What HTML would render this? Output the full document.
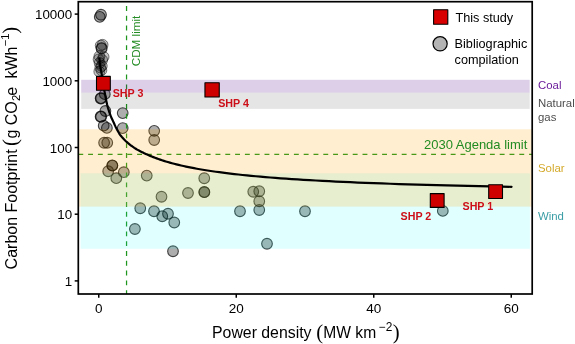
<!DOCTYPE html>
<html lang="en"><head><meta charset="utf-8"><title>Carbon footprint vs power density</title>
<style>html,body{margin:0;padding:0;background:#fff;}body{width:575px;height:344px;overflow:hidden;}svg{display:block;font-family:"Liberation Sans",Arial,sans-serif;}</style>
</head><body>
<svg width="575" height="344" viewBox="0 0 575 344">
<rect width="575" height="344" fill="#fff"/>
<defs><clipPath id="panel"><rect x="78.3" y="1.7" width="453.90000000000003" height="292.3"/></clipPath></defs>
<g clip-path="url(#panel)">
<circle cx="101" cy="14.75" r="5.35" fill="#000" fill-opacity="0.32" stroke="#000" stroke-opacity="0.7" stroke-width="1.1"/>
<circle cx="99.75" cy="16.9" r="5.35" fill="#000" fill-opacity="0.32" stroke="#000" stroke-opacity="0.7" stroke-width="1.1"/>
<circle cx="102.6" cy="44.8" r="5.4" fill="#000" fill-opacity="0.22" stroke="#000" stroke-opacity="0.5" stroke-width="1.0"/>
<circle cx="100.7" cy="45.5" r="5.4" fill="#000" fill-opacity="0.22" stroke="#000" stroke-opacity="0.5" stroke-width="1.0"/>
<circle cx="101.6" cy="48.3" r="5.4" fill="#000" fill-opacity="0.36" stroke="#000" stroke-opacity="0.8" stroke-width="1.2"/>
<circle cx="103.6" cy="56.9" r="5.4" fill="#000" fill-opacity="0.22" stroke="#000" stroke-opacity="0.5" stroke-width="1.0"/>
<circle cx="99.4" cy="56.3" r="5.4" fill="#000" fill-opacity="0.22" stroke="#000" stroke-opacity="0.5" stroke-width="1.0"/>
<circle cx="98.6" cy="59.4" r="5.4" fill="#000" fill-opacity="0.22" stroke="#000" stroke-opacity="0.5" stroke-width="1.0"/>
<circle cx="102.2" cy="60" r="5.4" fill="#000" fill-opacity="0.22" stroke="#000" stroke-opacity="0.5" stroke-width="1.0"/>
<circle cx="99.6" cy="63" r="5.4" fill="#000" fill-opacity="0.22" stroke="#000" stroke-opacity="0.5" stroke-width="1.0"/>
<circle cx="101.8" cy="66" r="5.4" fill="#000" fill-opacity="0.22" stroke="#000" stroke-opacity="0.5" stroke-width="1.0"/>
<circle cx="99.3" cy="71.6" r="5.4" fill="#000" fill-opacity="0.22" stroke="#000" stroke-opacity="0.5" stroke-width="1.0"/>
<circle cx="101.4" cy="70.3" r="5.4" fill="#000" fill-opacity="0.22" stroke="#000" stroke-opacity="0.5" stroke-width="1.0"/>
<circle cx="100.3" cy="67.5" r="5.4" fill="#000" fill-opacity="0.22" stroke="#000" stroke-opacity="0.5" stroke-width="1.0"/>
<circle cx="100.9" cy="98.3" r="5.4" fill="#000" fill-opacity="0.42" stroke="#000" stroke-opacity="0.85" stroke-width="1.5"/>
<circle cx="104.8" cy="94.2" r="5.35" fill="#000" fill-opacity="0.32" stroke="#000" stroke-opacity="0.7" stroke-width="1.1"/>
<circle cx="105.4" cy="111" r="5.35" fill="#000" fill-opacity="0.32" stroke="#000" stroke-opacity="0.7" stroke-width="1.1"/>
<circle cx="100.9" cy="116.7" r="5.4" fill="#000" fill-opacity="0.42" stroke="#000" stroke-opacity="0.85" stroke-width="1.5"/>
<circle cx="103.7" cy="125.7" r="5.35" fill="#000" fill-opacity="0.32" stroke="#000" stroke-opacity="0.7" stroke-width="1.1"/>
<circle cx="106.9" cy="127.9" r="5.35" fill="#000" fill-opacity="0.32" stroke="#000" stroke-opacity="0.7" stroke-width="1.1"/>
<circle cx="122.7" cy="113.1" r="5.35" fill="#000" fill-opacity="0.32" stroke="#000" stroke-opacity="0.7" stroke-width="1.1"/>
<circle cx="122.7" cy="128.1" r="5.35" fill="#000" fill-opacity="0.32" stroke="#000" stroke-opacity="0.7" stroke-width="1.1"/>
<circle cx="154.2" cy="130.8" r="5.35" fill="#000" fill-opacity="0.32" stroke="#000" stroke-opacity="0.7" stroke-width="1.1"/>
<circle cx="154.2" cy="140" r="5.35" fill="#000" fill-opacity="0.32" stroke="#000" stroke-opacity="0.7" stroke-width="1.1"/>
<circle cx="104.1" cy="142.75" r="5.35" fill="#000" fill-opacity="0.32" stroke="#000" stroke-opacity="0.7" stroke-width="1.1"/>
<circle cx="107.25" cy="142.75" r="5.35" fill="#000" fill-opacity="0.32" stroke="#000" stroke-opacity="0.7" stroke-width="1.1"/>
<circle cx="112.25" cy="165.4" r="5.35" fill="#000" fill-opacity="0.32" stroke="#000" stroke-opacity="0.7" stroke-width="1.1"/>
<circle cx="112.4" cy="165.6" r="5.35" fill="#000" fill-opacity="0.32" stroke="#000" stroke-opacity="0.7" stroke-width="1.1"/>
<circle cx="108.2" cy="171.25" r="5.35" fill="#000" fill-opacity="0.32" stroke="#000" stroke-opacity="0.7" stroke-width="1.1"/>
<circle cx="123.8" cy="172.2" r="5.35" fill="#000" fill-opacity="0.32" stroke="#000" stroke-opacity="0.7" stroke-width="1.1"/>
<circle cx="116.3" cy="178.2" r="5.35" fill="#000" fill-opacity="0.32" stroke="#000" stroke-opacity="0.7" stroke-width="1.1"/>
<circle cx="146.75" cy="175.6" r="5.35" fill="#000" fill-opacity="0.32" stroke="#000" stroke-opacity="0.7" stroke-width="1.1"/>
<circle cx="204.25" cy="178.25" r="5.35" fill="#000" fill-opacity="0.32" stroke="#000" stroke-opacity="0.7" stroke-width="1.1"/>
<circle cx="204.25" cy="192" r="5.35" fill="#000" fill-opacity="0.32" stroke="#000" stroke-opacity="0.7" stroke-width="1.1"/>
<circle cx="204.4" cy="192.2" r="5.35" fill="#000" fill-opacity="0.32" stroke="#000" stroke-opacity="0.7" stroke-width="1.1"/>
<circle cx="188" cy="193" r="5.35" fill="#000" fill-opacity="0.32" stroke="#000" stroke-opacity="0.7" stroke-width="1.1"/>
<circle cx="161.5" cy="196.75" r="5.35" fill="#000" fill-opacity="0.32" stroke="#000" stroke-opacity="0.7" stroke-width="1.1"/>
<circle cx="140.25" cy="208.25" r="5.35" fill="#000" fill-opacity="0.32" stroke="#000" stroke-opacity="0.7" stroke-width="1.1"/>
<circle cx="154" cy="211.25" r="5.35" fill="#000" fill-opacity="0.32" stroke="#000" stroke-opacity="0.7" stroke-width="1.1"/>
<circle cx="168" cy="213.75" r="5.35" fill="#000" fill-opacity="0.32" stroke="#000" stroke-opacity="0.7" stroke-width="1.1"/>
<circle cx="162.25" cy="216.25" r="5.35" fill="#000" fill-opacity="0.32" stroke="#000" stroke-opacity="0.7" stroke-width="1.1"/>
<circle cx="174.25" cy="222.5" r="5.35" fill="#000" fill-opacity="0.32" stroke="#000" stroke-opacity="0.7" stroke-width="1.1"/>
<circle cx="134.9" cy="229" r="5.35" fill="#000" fill-opacity="0.32" stroke="#000" stroke-opacity="0.7" stroke-width="1.1"/>
<circle cx="173" cy="251.25" r="5.35" fill="#000" fill-opacity="0.32" stroke="#000" stroke-opacity="0.7" stroke-width="1.1"/>
<circle cx="253.25" cy="191.75" r="5.35" fill="#000" fill-opacity="0.32" stroke="#000" stroke-opacity="0.7" stroke-width="1.1"/>
<circle cx="259.25" cy="191.25" r="5.35" fill="#000" fill-opacity="0.32" stroke="#000" stroke-opacity="0.7" stroke-width="1.1"/>
<circle cx="259.25" cy="201.25" r="5.35" fill="#000" fill-opacity="0.32" stroke="#000" stroke-opacity="0.7" stroke-width="1.1"/>
<circle cx="259.25" cy="210" r="5.35" fill="#000" fill-opacity="0.32" stroke="#000" stroke-opacity="0.7" stroke-width="1.1"/>
<circle cx="240" cy="211.25" r="5.35" fill="#000" fill-opacity="0.32" stroke="#000" stroke-opacity="0.7" stroke-width="1.1"/>
<circle cx="305" cy="211.25" r="5.35" fill="#000" fill-opacity="0.32" stroke="#000" stroke-opacity="0.7" stroke-width="1.1"/>
<circle cx="267" cy="243.75" r="5.35" fill="#000" fill-opacity="0.32" stroke="#000" stroke-opacity="0.7" stroke-width="1.1"/>
<circle cx="442.8" cy="210.9" r="5.35" fill="#000" fill-opacity="0.32" stroke="#000" stroke-opacity="0.7" stroke-width="1.1"/>
<line x1="78.3" y1="154.4" x2="532.2" y2="154.4" stroke="#1e961e" stroke-width="1.25" stroke-dasharray="4.9 4.9"/>
<line x1="126.55" y1="295.1" x2="126.55" y2="0" stroke="#1e961e" stroke-width="1.25" stroke-dasharray="4.9 4.9"/>
<rect x="81.2" y="79.8" width="448.50000000000006" height="12.900000000000006" fill="#4b0082" fill-opacity="0.19"/>
<rect x="81.2" y="92.7" width="448.50000000000006" height="16.200000000000003" fill="#000000" fill-opacity="0.1"/>
<rect x="80.6" y="173.3" width="449.29999999999995" height="75.5" fill="#00ffff" fill-opacity="0.12"/>
<rect x="78.3" y="129.3" width="453.90000000000003" height="77.29999999999998" fill="#ffa500" fill-opacity="0.19"/>
<path d="M99.49,58.67 L99.53,59.52 L99.57,60.36 L99.61,61.21 L99.66,62.06 L99.70,62.91 L99.75,63.76 L99.87,64.60 L100.03,65.45 L100.18,66.30 L100.34,67.14 L100.50,67.99 L100.66,68.83 L100.82,69.68 L100.99,70.52 L101.15,71.37 L101.32,72.21 L101.49,73.06 L101.66,73.90 L101.81,74.74 L101.92,75.59 L102.04,76.43 L102.15,77.27 L102.27,78.11 L102.39,78.96 L102.51,79.80 L102.63,80.64 L102.76,81.48 L102.89,82.32 L103.02,83.16 L103.16,83.99 L103.29,84.83 L103.44,85.67 L103.58,86.51 L103.73,87.34 L103.88,88.18 L104.03,89.01 L104.18,89.85 L104.34,90.68 L104.51,91.52 L104.68,92.35 L104.85,93.18 L105.02,94.01 L105.18,94.84 L105.32,95.67 L105.46,96.50 L105.61,97.33 L105.76,98.16 L105.92,98.98 L106.08,99.81 L106.25,100.63 L106.42,101.46 L106.60,102.28 L106.78,103.10 L106.97,103.92 L107.16,104.74 L107.37,105.56 L107.59,106.38 L107.81,107.20 L108.05,108.01 L108.28,108.83 L108.53,109.64 L108.78,110.45 L109.04,111.26 L109.30,112.07 L109.58,112.88 L109.86,113.69 L110.15,114.49 L110.45,115.30 L110.76,116.10 L111.09,116.90 L111.44,117.70 L111.79,118.50 L112.15,119.29 L112.52,120.09 L112.91,120.88 L113.30,121.67 L113.70,122.46 L114.02,123.25 L114.35,124.03 L114.69,124.82 L115.04,125.60 L115.41,126.38 L115.79,127.16 L116.19,127.93 L116.60,128.71 L116.98,129.48 L117.38,130.25 L117.79,131.01 L118.22,131.78 L118.67,132.54 L119.13,133.30 L119.61,134.05 L120.11,134.81 L120.66,135.56 L121.28,136.31 L121.91,137.05 L122.57,137.79 L123.24,138.53 L123.94,139.27 L124.66,140.00 L125.40,140.73 L126.17,141.46 L126.98,142.18 L127.80,142.91 L128.66,143.62 L129.54,144.34 L130.44,145.05 L131.38,145.75 L132.34,146.46 L133.33,147.15 L134.35,147.85 L135.41,148.54 L136.49,149.23 L137.69,149.91 L138.94,150.59 L140.23,151.27 L141.55,151.94 L142.91,152.60 L144.31,153.27 L145.75,153.92 L147.23,154.58 L148.72,155.22 L150.22,155.87 L151.76,156.51 L153.34,157.14 L154.97,157.77 L156.65,158.40 L158.38,159.01 L160.16,159.63 L161.99,160.24 L163.86,160.84 L165.80,161.44 L167.79,162.03 L169.84,162.62 L171.95,163.20 L174.12,163.78 L176.36,164.35 L178.67,164.92 L181.05,165.48 L183.50,166.03 L186.02,166.58 L188.61,167.12 L191.29,167.66 L194.04,168.19 L196.88,168.71 L199.81,169.23 L202.82,169.74 L205.92,170.25 L209.11,170.75 L212.40,171.24 L215.79,171.73 L219.28,172.21 L222.87,172.69 L226.58,173.16 L230.39,173.62 L234.32,174.08 L238.37,174.53 L242.53,174.97 L246.83,175.41 L251.25,175.84 L255.80,176.26 L260.49,176.68 L265.32,177.09 L270.30,177.50 L275.42,177.90 L280.70,178.29 L286.14,178.68 L291.74,179.06 L297.51,179.44 L303.45,179.80 L309.57,180.17 L315.88,180.52 L322.37,180.87 L329.06,181.22 L335.94,181.55 L343.04,181.89 L350.35,182.21 L357.87,182.53 L365.63,182.84 L373.61,183.15 L381.84,183.45 L390.31,183.75 L399.03,184.04 L408.02,184.33 L417.28,184.61 L426.81,184.88 L436.64,185.15 L446.75,185.41 L457.17,185.67 L467.90,185.92 L478.95,186.17 L490.34,186.41 L502.07,186.65 L511.55,186.84" fill="none" stroke="#000" stroke-width="2.2" stroke-linejoin="round" stroke-linecap="round"/>
<rect x="96.50" y="76.40" width="13.8" height="13.8" fill="#cf0000" stroke="#000" stroke-width="1.1" stroke-linejoin="round"/>
<rect x="204.95" y="82.70" width="14.3" height="14.3" fill="#cf0000" stroke="#000" stroke-width="1.1" stroke-linejoin="round"/>
<rect x="430.30" y="193.60" width="13.8" height="13.8" fill="#cf0000" stroke="#000" stroke-width="1.1" stroke-linejoin="round"/>
<rect x="488.70" y="184.70" width="13.8" height="13.8" fill="#cf0000" stroke="#000" stroke-width="1.1" stroke-linejoin="round"/>
</g>
<rect x="78.3" y="1.7" width="453.90000000000003" height="292.3" fill="none" stroke="#000" stroke-width="1.7"/>
<line x1="74.7" y1="14.10" x2="78.3" y2="14.10" stroke="#000" stroke-width="1.5"/>
<text x="72.1" y="19.10" font-size="13.35" text-anchor="end" fill="#000">10000</text>
<line x1="74.7" y1="80.80" x2="78.3" y2="80.80" stroke="#000" stroke-width="1.5"/>
<text x="72.1" y="85.80" font-size="13.35" text-anchor="end" fill="#000">1000</text>
<line x1="74.7" y1="147.50" x2="78.3" y2="147.50" stroke="#000" stroke-width="1.5"/>
<text x="72.1" y="152.50" font-size="13.35" text-anchor="end" fill="#000">100</text>
<line x1="74.7" y1="214.20" x2="78.3" y2="214.20" stroke="#000" stroke-width="1.5"/>
<text x="72.1" y="219.20" font-size="13.35" text-anchor="end" fill="#000">10</text>
<line x1="74.7" y1="280.90" x2="78.3" y2="280.90" stroke="#000" stroke-width="1.5"/>
<text x="72.1" y="285.90" font-size="13.35" text-anchor="end" fill="#000">1</text>
<line x1="98.75" y1="294.0" x2="98.75" y2="297.7" stroke="#000" stroke-width="1.5"/>
<text x="98.75" y="312.8" font-size="13.5" text-anchor="middle" fill="#000">0</text>
<line x1="236.25" y1="294.0" x2="236.25" y2="297.7" stroke="#000" stroke-width="1.5"/>
<text x="236.25" y="312.8" font-size="13.5" text-anchor="middle" fill="#000">20</text>
<line x1="373.75" y1="294.0" x2="373.75" y2="297.7" stroke="#000" stroke-width="1.5"/>
<text x="373.75" y="312.8" font-size="13.5" text-anchor="middle" fill="#000">40</text>
<line x1="511.25" y1="294.0" x2="511.25" y2="297.7" stroke="#000" stroke-width="1.5"/>
<text x="511.25" y="312.8" font-size="13.5" text-anchor="middle" fill="#000">60</text>
<text x="212" y="338.2" font-size="15.85" fill="#000">Power density</text>
<text x="316.2" y="339.0" font-family="Liberation Serif, Times New Roman, serif" font-size="20.7" fill="#000">(</text>
<text x="323.3" y="338.2" font-size="15.6" fill="#000">MW km</text>
<text x="378.9" y="330.8" font-size="11.9" fill="#000">−2</text>
<text x="392.8" y="339.0" font-family="Liberation Serif, Times New Roman, serif" font-size="20.7" fill="#000">)</text>
<text transform="translate(16.9,269.4) rotate(-90)" font-size="16" fill="#000">Carbon Footprint</text>
<text transform="translate(17.0,145.9) rotate(-90)" font-family="Liberation Serif, Times New Roman, serif" font-size="20.5" fill="#000">(</text>
<text transform="translate(16.9,138.5) rotate(-90)" font-size="16" fill="#000">g</text>
<text transform="translate(16.9,125.3) rotate(-90)" font-size="16" fill="#000">CO</text>
<text transform="translate(20.2,100.9) rotate(-90)" font-size="11.3" fill="#000">2</text>
<text transform="translate(16.9,95.8) rotate(-90)" font-size="16" fill="#000">e</text>
<text transform="translate(16.9,78.5) rotate(-90)" font-size="16" fill="#000">kWh</text>
<text transform="translate(8.7,46.2) rotate(-90)" font-size="11.2" fill="#000">−1</text>
<text transform="translate(17.0,33.8) rotate(-90)" font-family="Liberation Serif, Times New Roman, serif" font-size="20.5" fill="#000">)</text>
<text x="112.7" y="96.7" font-size="10.7" font-weight="bold" fill="#cc0f18">SHP 3</text>
<text x="218.2" y="106.7" font-size="10.7" font-weight="bold" fill="#cc0f18">SHP 4</text>
<text x="400.6" y="220" font-size="10.7" font-weight="bold" fill="#cc0f18">SHP 2</text>
<text x="462.5" y="209.9" font-size="10.7" font-weight="bold" fill="#cc0f18">SHP 1</text>
<text transform="translate(140.1,66.3) rotate(-90)" font-size="11.7" fill="#228b22">CDM limit</text>
<text x="527.3" y="149.4" font-size="13" text-anchor="end" fill="#228b22">2030 Agenda limit</text>
<text x="538" y="89.2" font-size="11.4" fill="#6a1b9a">Coal</text>
<text x="538" y="106.8" font-size="11.4" fill="#4d4d4d">Natural</text>
<text x="538" y="121.3" font-size="11.4" fill="#4d4d4d">gas</text>
<text x="538" y="172" font-size="11.4" fill="#d4a92a">Solar</text>
<text x="538" y="220.4" font-size="11.4" fill="#3a9da5">Wind</text>
<rect x="433.6" y="9.7" width="14.2" height="14.5" fill="#d80000" stroke="#000" stroke-width="1.1" stroke-linejoin="round"/>
<circle cx="440.1" cy="43.8" r="7.1" fill="#b4b4b4" stroke="#000" stroke-width="1.2"/>
<text x="455.4" y="21.5" font-size="12.7" fill="#000">This study</text>
<text x="454.6" y="48.2" font-size="12.7" fill="#000">Bibliographic</text>
<text x="454.6" y="63.8" font-size="12.7" fill="#000">compilation</text>
</svg></body></html>
